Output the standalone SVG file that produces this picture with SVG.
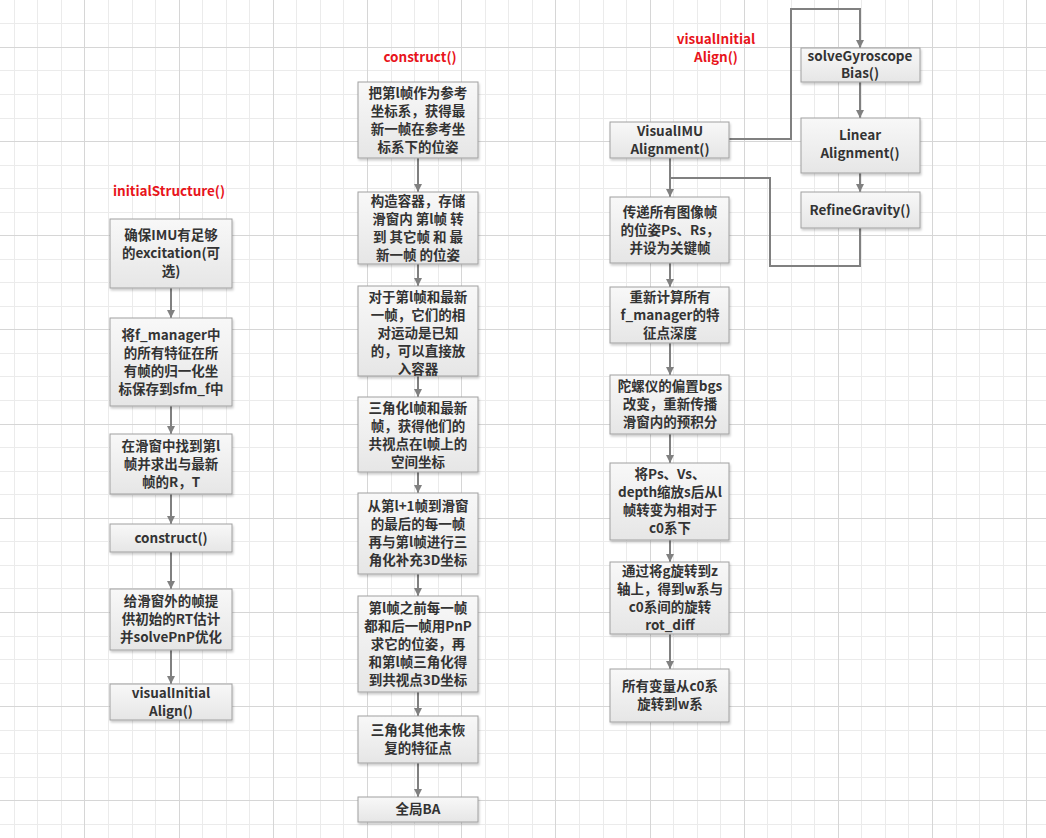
<svg xmlns="http://www.w3.org/2000/svg" width="1046" height="838" viewBox="0 0 1046 838">
<defs>
<linearGradient id="bg" x1="0" y1="0" x2="0" y2="1"><stop offset="0" stop-color="#f8f8f8"/><stop offset="1" stop-color="#e6e6e6"/></linearGradient>
<filter id="sh" x="-10%" y="-10%" width="130%" height="140%"><feDropShadow dx="1" dy="2" stdDeviation="1.2" flood-color="#000" flood-opacity="0.2"/></filter>
<marker id="ar" markerWidth="10" markerHeight="10" refX="9" refY="5" orient="auto" markerUnits="userSpaceOnUse"><path d="M1 1L9 5L1 9Z" fill="#808080"/></marker>
</defs>
<style>
.b{fill:url(#bg);stroke:#a0a0a0;stroke-width:1;filter:url(#sh)}
.t{font-family:"Noto Sans CJK SC","Liberation Sans",sans-serif;font-size:13.5px;font-weight:bold;fill:#333;text-anchor:middle}
.r{font-family:"Noto Sans CJK SC","Liberation Sans",sans-serif;font-size:13.5px;font-weight:bold;fill:#e8141b;text-anchor:middle}
.c{fill:none;stroke:#808080;stroke-width:2}
.gm{fill:none;stroke:#ebebeb;stroke-width:1}
.gM{fill:none;stroke:#d6d6d6;stroke-width:1}
</style>
<rect width="1046" height="838" fill="#fff"/>
<g id="grid">
<path class="gm" d="M14.5 0V838M37.5 0V838M61.5 0V838M108.5 0V838M132.5 0V838M155.5 0V838M202.5 0V838M226.5 0V838M249.5 0V838M296.5 0V838M320.5 0V838M343.5 0V838M391.5 0V838M414.5 0V838M438.5 0V838M485.5 0V838M508.5 0V838M532.5 0V838M579.5 0V838M603.5 0V838M626.5 0V838M673.5 0V838M697.5 0V838M720.5 0V838M767.5 0V838M791.5 0V838M814.5 0V838M861.5 0V838M885.5 0V838M908.5 0V838M956.5 0V838M979.5 0V838M1003.5 0V838M0 23.5H1046M0 70.5H1046M0 94.5H1046M0 118.5H1046M0 165.5H1046M0 188.5H1046M0 212.5H1046M0 259.5H1046M0 282.5H1046M0 306.5H1046M0 353.5H1046M0 376.5H1046M0 400.5H1046M0 447.5H1046M0 471.5H1046M0 494.5H1046M0 541.5H1046M0 565.5H1046M0 588.5H1046M0 636.5H1046M0 659.5H1046M0 683.5H1046M0 730.5H1046M0 753.5H1046M0 777.5H1046M0 824.5H1046"/>
<path class="gM" d="M84.5 0V838M179.5 0V838M273.5 0V838M367.5 0V838M461.5 0V838M555.5 0V838M650.5 0V838M744.5 0V838M838.5 0V838M932.5 0V838M1026.5 0V838M0 47.5H1046M0 141.5H1046M0 235.5H1046M0 329.5H1046M0 424.5H1046M0 518.5H1046M0 612.5H1046M0 706.5H1046M0 800.5H1046"/>
</g>

<g id="connectors">
<path class="c" marker-end="url(#ar)" d="M171 288V318"/>
<path class="c" marker-end="url(#ar)" d="M171 406V434"/>
<path class="c" marker-end="url(#ar)" d="M171 494V524"/>
<path class="c" marker-end="url(#ar)" d="M171 552V589"/>
<path class="c" marker-end="url(#ar)" d="M171 650V684"/>
<path class="c" marker-end="url(#ar)" d="M418 158V192"/>
<path class="c" marker-end="url(#ar)" d="M418 264V286"/>
<path class="c" marker-end="url(#ar)" d="M418 376V397"/>
<path class="c" marker-end="url(#ar)" d="M418 472V493"/>
<path class="c" marker-end="url(#ar)" d="M418 574V596"/>
<path class="c" marker-end="url(#ar)" d="M418 692V716"/>
<path class="c" marker-end="url(#ar)" d="M418 763V797"/>
<path class="c" marker-end="url(#ar)" d="M670 158V197"/>
<path class="c" marker-end="url(#ar)" d="M670 263V287"/>
<path class="c" marker-end="url(#ar)" d="M670 343V375"/>
<path class="c" marker-end="url(#ar)" d="M670 434V463"/>
<path class="c" marker-end="url(#ar)" d="M670 540V562"/>
<path class="c" marker-end="url(#ar)" d="M670 634V669"/>
<path class="c" marker-end="url(#ar)" d="M729 139H791V9H860V48"/>
<path class="c" marker-end="url(#ar)" d="M860 82V118"/>
<path class="c" marker-end="url(#ar)" d="M860 173V192"/>
<path class="c" d="M860 228V266H770V178H670"/>
</g>

<g id="titles">
<text class="r" x="169" y="196">initialStructure()</text>
<text class="r" x="420" y="62">construct()</text>
<text class="r" x="716" y="44">visualInitial</text>
<text class="r" x="716" y="62">Align()</text>
</g>

<g id="a1"><rect class="b" x="110" y="219" width="122" height="69"/><text class="t"><tspan x="171" y="240">确保IMU有足够</tspan><tspan x="171" y="258">的excitation(可</tspan><tspan x="171" y="276">选)</tspan></text></g>
<g id="a2"><rect class="b" x="110" y="318" width="122" height="88"/><text class="t"><tspan x="171" y="340">将f_manager中</tspan><tspan x="171" y="358">的所有特征在所</tspan><tspan x="171" y="376">有帧的归一化坐</tspan><tspan x="171" y="394">标保存到sfm_f中</tspan></text></g>
<g id="a3"><rect class="b" x="110" y="434" width="122" height="60"/><text class="t"><tspan x="171" y="451">在滑窗中找到第l</tspan><tspan x="171" y="469">帧并求出与最新</tspan><tspan x="171" y="487">帧的R，T</tspan></text></g>
<g id="a4"><rect class="b" x="110" y="524" width="122" height="28"/><text class="t" x="171" y="543">construct()</text></g>
<g id="a5"><rect class="b" x="110" y="589" width="122" height="61"/><text class="t"><tspan x="171" y="606">给滑窗外的帧提</tspan><tspan x="171" y="624">供初始的RT估计</tspan><tspan x="171" y="642">并solvePnP优化</tspan></text></g>
<g id="a6"><rect class="b" x="110" y="684" width="122" height="36"/><text class="t"><tspan x="171" y="698">visualInitial</tspan><tspan x="171" y="716">Align()</tspan></text></g>

<g id="b1"><rect class="b" x="358" y="82" width="120" height="76"/><text class="t"><tspan x="418" y="98">把第l帧作为参考</tspan><tspan x="418" y="116">坐标系，获得最</tspan><tspan x="418" y="134">新一帧在参考坐</tspan><tspan x="418" y="152">标系下的位姿</tspan></text></g>
<g id="b2"><rect class="b" x="358" y="192" width="120" height="72"/><text class="t"><tspan x="418" y="206">构造容器，存储</tspan><tspan x="418" y="224">滑窗内 第l帧 转</tspan><tspan x="418" y="242">到 其它帧 和 最</tspan><tspan x="418" y="260">新一帧 的位姿</tspan></text></g>
<g id="b3"><rect class="b" x="358" y="286" width="120" height="90"/><text class="t"><tspan x="418" y="302">对于第l帧和最新</tspan><tspan x="418" y="320">一帧，它们的相</tspan><tspan x="418" y="338">对运动是已知</tspan><tspan x="418" y="356">的，可以直接放</tspan><tspan x="418" y="374">入容器</tspan></text></g>
<g id="b4"><rect class="b" x="358" y="397" width="120" height="75"/><text class="t"><tspan x="418" y="413">三角化l帧和最新</tspan><tspan x="418" y="431">帧，获得他们的</tspan><tspan x="418" y="449">共视点在l帧上的</tspan><tspan x="418" y="467">空间坐标</tspan></text></g>
<g id="b5"><rect class="b" x="358" y="493" width="120" height="81"/><text class="t"><tspan x="418" y="511">从第l+1帧到滑窗</tspan><tspan x="418" y="529">的最后的每一帧</tspan><tspan x="418" y="547">再与第l帧进行三</tspan><tspan x="418" y="565">角化补充3D坐标</tspan></text></g>
<g id="b6"><rect class="b" x="358" y="596" width="120" height="96"/><text class="t"><tspan x="418" y="613">第l帧之前每一帧</tspan><tspan x="418" y="631">都和后一帧用PnP</tspan><tspan x="418" y="649">求它的位姿，再</tspan><tspan x="418" y="667">和第l帧三角化得</tspan><tspan x="418" y="685">到共视点3D坐标</tspan></text></g>
<g id="b7"><rect class="b" x="358" y="716" width="120" height="47"/><text class="t"><tspan x="418" y="735">三角化其他未恢</tspan><tspan x="418" y="753">复的特征点</tspan></text></g>
<g id="b8"><rect class="b" x="358" y="797" width="120" height="25"/><text class="t" x="418" y="814">全局BA</text></g>

<g id="c1"><rect class="b" x="610" y="122" width="119" height="36"/><text class="t"><tspan x="670" y="136">VisualIMU</tspan><tspan x="670" y="154">Alignment()</tspan></text></g>
<g id="c2"><rect class="b" x="610" y="197" width="119" height="66"/><text class="t"><tspan x="670" y="217">传递所有图像帧</tspan><tspan x="670" y="235">的位姿Ps、Rs，</tspan><tspan x="670" y="253">并设为关键帧</tspan></text></g>
<g id="c3"><rect class="b" x="610" y="287" width="119" height="56"/><text class="t"><tspan x="670" y="302">重新计算所有</tspan><tspan x="670" y="320">f_manager的特</tspan><tspan x="670" y="338">征点深度</tspan></text></g>
<g id="c4"><rect class="b" x="610" y="375" width="119" height="59"/><text class="t"><tspan x="670" y="391">陀螺仪的偏置bgs</tspan><tspan x="670" y="409">改变，重新传播</tspan><tspan x="670" y="427">滑窗内的预积分</tspan></text></g>
<g id="c5"><rect class="b" x="610" y="463" width="119" height="77"/><text class="t"><tspan x="670" y="479">将Ps、Vs、</tspan><tspan x="670" y="497">depth缩放s后从l</tspan><tspan x="670" y="515">帧转变为相对于</tspan><tspan x="670" y="533">c0系下</tspan></text></g>
<g id="c6"><rect class="b" x="610" y="562" width="119" height="72"/><text class="t"><tspan x="670" y="576">通过将g旋转到z</tspan><tspan x="670" y="594">轴上，得到w系与</tspan><tspan x="670" y="612">c0系间的旋转</tspan><tspan x="670" y="630">rot_diff</tspan></text></g>
<g id="c7"><rect class="b" x="610" y="669" width="119" height="53"/><text class="t"><tspan x="670" y="691">所有变量从c0系</tspan><tspan x="670" y="709">旋转到w系</tspan></text></g>

<g id="d1"><rect class="b" x="801" y="48" width="119" height="34"/><text class="t"><tspan x="860" y="61">solveGyroscope</tspan><tspan x="860" y="78">Bias()</tspan></text></g>
<g id="d2"><rect class="b" x="801" y="118" width="119" height="55"/><text class="t"><tspan x="860" y="140">Linear</tspan><tspan x="860" y="158">Alignment()</tspan></text></g>
<g id="d3"><rect class="b" x="801" y="192" width="119" height="36"/><text class="t" x="860" y="215">RefineGravity()</text></g>
</svg>
